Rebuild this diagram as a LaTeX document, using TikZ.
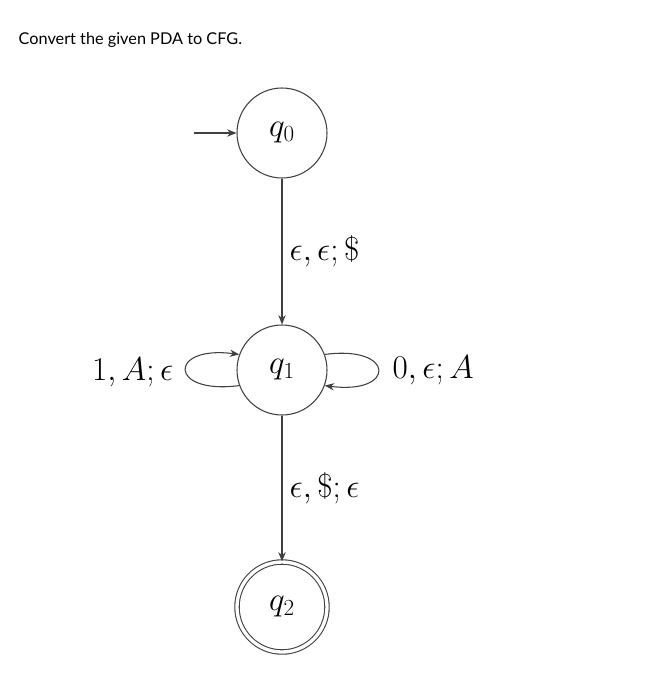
\documentclass[tikz,border=0pt]{standalone}
\usepackage{fontspec}
\newfontfamily\titlefont{Lato}
\usetikzlibrary{arrows.meta}
\begin{document}
\begin{tikzpicture}[x=0.75pt,y=-0.75pt,
  state/.style={circle,draw=black!75,line width=0.8pt,minimum size=67.5pt,inner sep=0pt,font=\fontsize{26}{30}\selectfont},
  acc/.style={state,double=white,double distance=2.5pt},
  edge/.style={draw=black!75,line width=0.8pt,-{Stealth[length=7pt,width=5.5pt]}},
  lbl/.style={font=\fontsize{30}{34}\selectfont}]
\useasboundingbox (0,0) rectangle (650,700);
\node[anchor=west,font=\titlefont\fontsize{12.2}{14}\selectfont] (title) at (14,40) {Convert the given PDA to CFG.};
\node[state] (q0) at (282,133) {$q_0$};
\node[state] (q1) at (282,370) {$q_1$};
\node[acc] (q2) at (282,607) {$q_2$};
\coordinate (init) at (194,133);
\draw[edge] (init) -- (q0);
\draw[edge] (q0) -- node[lbl,right,xshift=2pt] {$\epsilon,\epsilon;\$$} (q1);
\draw[edge] (q1) -- node[lbl,right,xshift=2pt] {$\epsilon,\$;\epsilon$} (q2);
\draw[edge] (q1.200) .. controls (168,395) and (168,345) .. (q1.160);
\draw[edge] (q1.20) .. controls (396,345) and (396,395) .. (q1.-20);
\node[lbl,anchor=east] (l1) at (178,372) {$1,A;\epsilon$};
\node[lbl,anchor=west] (l2) at (388,370) {$0,\epsilon;A$};
\end{tikzpicture}
\end{document}
